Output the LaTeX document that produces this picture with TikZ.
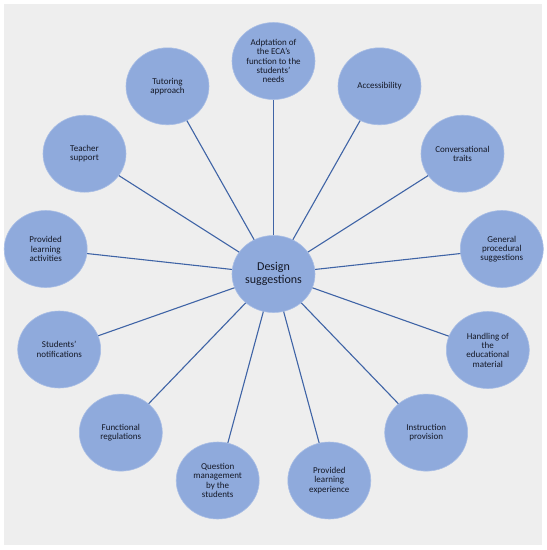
\documentclass[tikz,border=0pt]{standalone}
\usepackage{fontspec}
\setmainfont{Carlito}
\usetikzlibrary{shapes.geometric}
\definecolor{bgc}{HTML}{EEEEEE}
\definecolor{fillc}{HTML}{8FAADC}
\definecolor{edgec}{HTML}{A9BEE5}
\definecolor{linec}{HTML}{3F64A6}
\definecolor{txtc}{HTML}{141826}
\tikzset{
  topic/.style={ellipse, fill=fillc, draw=edgec, line width=0.6pt,
    minimum width=83pt, minimum height=77pt, inner sep=0pt, align=center,
    text=txtc, font=\fontsize{9}{9.3}\selectfont},
  hub/.style={topic, font=\fontsize{12}{12.7}\selectfont},
  spoke/.style={draw=linec, line width=1.1pt}
}
\begin{document}
\begin{tikzpicture}[x=1pt,y=-1pt]
\useasboundingbox (0,0) rectangle (547,550);
\fill[bgc] (4,4) rectangle (542,545);
\node[hub] (c) at (273.5,274) {Design\\suggestions};
\node[topic] (adapt) at (273.5,61) {Adptation of\\the ECA's\\function to the\\students'\\needs};
\node[topic] (access) at (379.5,86.3) {Accessibility};
\node[topic] (conv) at (462.5,153.7) {Conversational\\traits};
\node[topic] (gen) at (501.8,249) {General\\procedural\\suggestions};
\node[topic] (hand) at (487.8,350) {Handling of\\the\\educational\\material};
\node[topic] (instr) at (426.2,432.6) {Instruction\\provision};
\node[topic] (ple) at (329.3,480.5) {Provided\\learning\\experience};
\node[topic] (quest) at (217.7,480.5) {Question\\management\\by the\\students};
\node[topic] (func) at (120.8,432.6) {Functional\\regulations};
\node[topic] (stud) at (59.2,349.5) {Students'\\notifications};
\node[topic] (pla) at (45.7,249) {Provided\\learning\\activities};
\node[topic] (teach) at (84.5,153.7) {Teacher\\support};
\node[topic] (tutor) at (167.5,86.3) {Tutoring\\approach};
\foreach \n in {adapt,access,conv,gen,hand,instr,ple,quest,func,stud,pla,teach,tutor}
  \draw[spoke] (c) -- (\n);
\end{tikzpicture}
\end{document}
